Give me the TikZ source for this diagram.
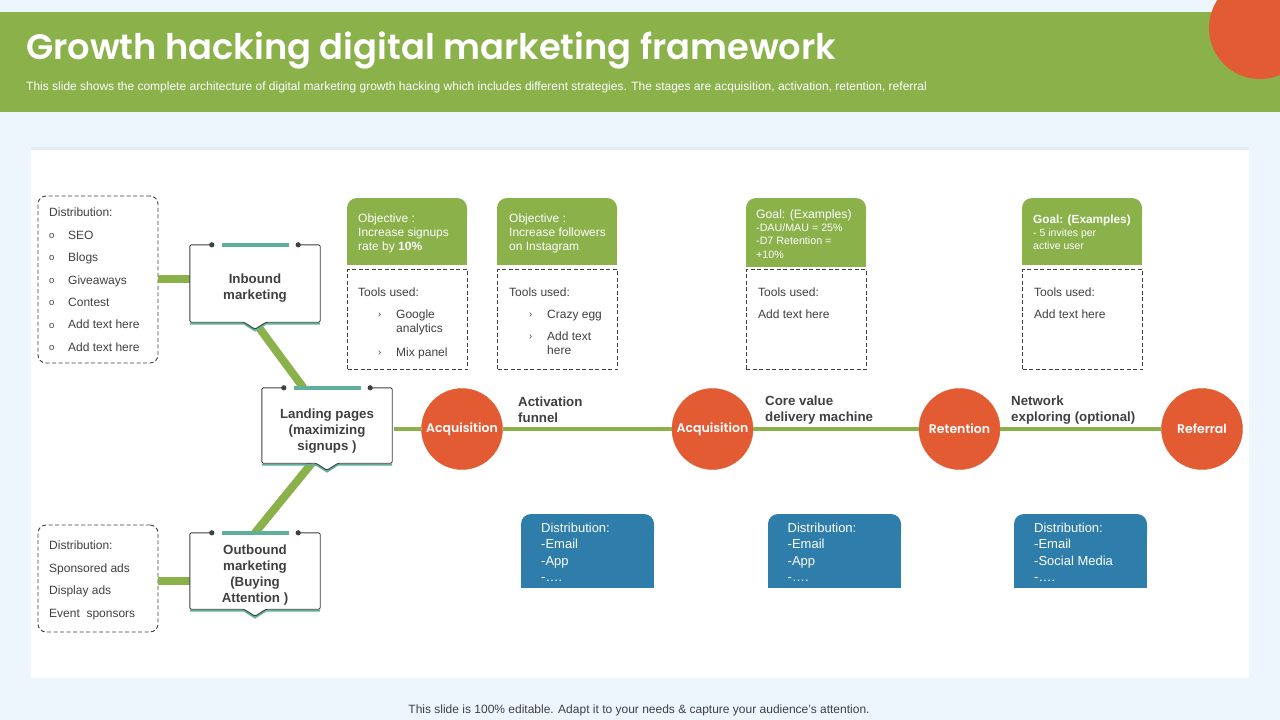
\documentclass[tikz,border=0pt]{standalone}
\usepackage{fontspec}
\setmainfont{Liberation Sans}
\newfontfamily\headfont{Poppins}[BoldFont={Poppins SemiBold}]
\usepackage{color}
\definecolor{leaf}{HTML}{8AB14A}
\definecolor{rust}{HTML}{E35B33}
\definecolor{sea}{HTML}{2E7DAB}
\definecolor{pale}{HTML}{EDF6FD}
\definecolor{rim}{HTML}{E4ECF3}
\definecolor{mint}{HTML}{5FB09B}
\definecolor{ink}{HTML}{404040}
\newcommand{\dotitem}[1]{\makebox[19pt][l]{\fontsize{9.5}{14}\selectfont\raisebox{.8pt}{o}}#1}
\newcommand{\toolitem}[1]{\hspace*{20pt}\makebox[18pt][l]{\fontsize{9.5}{14}\selectfont\raisebox{.8pt}{›}}#1}
\tikzset{
  plain/.style={inner sep=0, align=left, text=ink, font=\fontsize{12}{14}\selectfont},
  spaced/.style={plain, font=\fontsize{12}{22.4}\selectfont},
  onfill/.style={inner sep=0, align=left, text=white, font=\fontsize{12}{14.2}\selectfont},
  stagebox/.style={draw=rust, fill=rust, circle, minimum size=81pt, inner sep=0, text=white, font=\headfont\bfseries\fontsize{12.5}{15}\selectfont},
  distbox/.style={draw=ink, dash pattern=on 4pt off 2.5pt, line width=.9pt, rounded corners=8pt, minimum width=120pt, inner sep=0},
  toolbox/.style={draw=ink, dash pattern=on 4pt off 2.5pt, line width=.9pt, minimum width=120pt, minimum height=100pt, inner sep=0},
  callbox/.style={fill=white, minimum width=130pt, inner sep=0},
  calltext/.style={inner sep=0, align=center, text=ink, font=\bfseries\fontsize{13.3}{16}\selectfont},
  steptext/.style={inner sep=0, align=left, anchor=west, text=ink, font=\bfseries\fontsize{13.3}{16}\selectfont},
  link/.style={draw=leaf, line width=8pt},
  track/.style={draw=leaf, line width=4.5pt}
}
\begin{document}
\begin{tikzpicture}[x=1pt, y=-1pt]
\useasboundingbox (0,0) rectangle (1280,720);
\fill[pale] (0,0) rectangle (1280,720);
\fill[leaf] (0,12) rectangle (1280,112);
\begin{scope}
\clip (0,0) rectangle (1280,720);
\fill[rust] (1260,28) circle (51);
\end{scope}
\fill[rim] (31,147) rectangle (1249,150);
\fill[white] (31,150) rectangle (1249,678);

\node[inner sep=0, anchor=west, text=white, font=\headfont\bfseries\fontsize{35.3}{40}\selectfont] (head) at (26,50) {Growth hacking digital marketing framework};
\node[onfill, anchor=west] (sub) at (26,87) {This slide shows the complete architecture of digital marketing growth hacking which includes different strategies. The stages are acquisition, activation, retention, referral};
\node[plain, anchor=center] (foot) at (639,710.5) {This slide is 100\% editable. Adapt it to your needs \& capture your audience’s attention.};

% coloured tabs
\foreach \x/\y/\w/\h/\c in {347/198/120/67/leaf, 497/198/120/67/leaf, 746/198/120/69/leaf, 1022/198/120/67/leaf, 521/514/133/74/sea, 768/514/133/74/sea, 1014/514/133/74/sea} {
  \fill[\c, rounded corners=10pt] (\x,\y) rectangle ++(\w,30);
  \fill[\c] (\x,\y+20) rectangle (\x+\w,\y+\h);
}

% left column
\node[distbox, minimum height=167pt] (d1) at (98,279.5) {};
\node[distbox, minimum height=107pt] (d2) at (98,578.5) {};
\node[spaced, anchor=north west] (dt1) at (49,208) {Distribution:\\\dotitem{SEO}\\\dotitem{Blogs}\\\dotitem{Giveaways}\\\dotitem{Contest}\\\dotitem{Add text here}\\\dotitem{Add text here}};
\node[spaced, anchor=north west] (dt2) at (49,541) {Distribution:\\Sponsored ads\\Display ads\\Event\ \ sponsors};

\node[callbox, minimum height=77pt] (b1) at (255,283.5) {};
\node[callbox, minimum height=75pt] (b2) at (327,425.5) {};
\node[callbox, minimum height=76pt] (b3) at (255,571) {};

\draw[link] ([yshift=1pt]d1.east) -- ([yshift=1pt]d1.east -| b1.west);
\draw[link] ([yshift=-2pt]d2.east) -- ([yshift=-2pt]d2.east -| b3.west);
\draw[link] (b1.south) -- (b2.122);
\draw[link] (b2.248) -- (b3.north);

\foreach \b in {b1, b2, b3} {
  \draw[mint, line width=2pt] ([yshift=-1.3pt]\b.south west) -- ([xshift=-11pt,yshift=-1.3pt]\b.south) -- ([yshift=-8.3pt]\b.south) -- ([xshift=11pt,yshift=-1.3pt]\b.south) -- ([yshift=-1.3pt]\b.south east);
  \draw[ink, fill=white, line width=.9pt, rounded corners=1.5pt] ([xshift=22pt]\b.north west) -- (\b.north west) -- (\b.south west) -- ([xshift=-11pt]\b.south) -- ([yshift=-7pt]\b.south) -- ([xshift=11pt]\b.south) -- (\b.south east) -- (\b.north east) -- ([xshift=-22pt]\b.north east);
  \draw[mint, line width=4pt] ([xshift=-33.5pt]\b.north) -- ([xshift=33.5pt]\b.north);
  \fill[ink] ([xshift=22pt]\b.north west) circle (2.6);
  \fill[ink] ([xshift=-22pt]\b.north east) circle (2.6);
}

\node[calltext] (l1) at (255,288) {Inbound\\marketing};
\node[calltext] (l2) at (327,431) {Landing pages\\(maximizing\\signups  )};
\node[calltext] (l3) at (255,575) {Outbound\\marketing\\(Buying\\Attention )};

% stages
\coordinate (c0) at (394,429);
\node[stagebox] (s1) at (462,429) {Acquisition};
\node[stagebox] (s2) at (712.5,429) {Acquisition};
\node[stagebox] (s3) at (959.5,429) {Retention};
\node[stagebox] (s4) at (1202,429) {Referral};
\draw[track] (c0) -- (s1);
\draw[track] (s1) -- (s2);
\draw[track] (s2) -- (s3);
\draw[track] (s3) -- (s4);

\node[steptext] (f1) at (518,410) {Activation\\funnel};
\node[steptext] (f2) at (765,410) {Core value\\delivery machine};
\node[steptext] (f3) at (1011,410) {Network\\exploring (optional)};

% goals
\node[onfill, anchor=west] (g1) at (358,233.5) {Objective :\\Increase signups\\rate by \textbf{10\%}};
\node[onfill, anchor=west] (g2) at (509,233.5) {Objective :\\Increase followers\\on Instagram};
\node[onfill, anchor=west, font=\fontsize{10.7}{13.2}\selectfont] (g3) at (756,234) {{\fontsize{12.2}{14}\selectfont Goal: (Examples)}\\-DAU/MAU = 25\%\\-D7 Retention =\\+10\%};
\node[onfill, anchor=west, font=\fontsize{10.5}{13.2}\selectfont] (g4) at (1033,232.5) {{\bfseries\fontsize{11.8}{14}\selectfont Goal:  (Examples)}\\- 5 invites per\\active user};

% tools
\node[toolbox] (t1) at (407.5,319.5) {};
\node[toolbox] (t2) at (557.5,319.5) {};
\node[toolbox] (t3) at (806,319.5) {};
\node[toolbox] (t4) at (1082.5,319.5) {};
\node[plain, anchor=north west] (u1) at (358,287.5) {Tools used:\\[8pt]\toolitem{Google}\\\hspace*{38pt}analytics\\[10pt]\toolitem{Mix panel}};
\node[plain, anchor=north west] (u2) at (509,287.5) {Tools used:\\[8pt]\toolitem{Crazy egg}\\[8pt]\toolitem{Add text}\\\hspace*{38pt}here};
\node[plain, anchor=north west] (u3) at (758,287.5) {Tools used:\\[8pt]Add text here};
\node[plain, anchor=north west] (u4) at (1034,287.5) {Tools used:\\[8pt]Add text here};

% channels
\node[onfill, anchor=north west, font=\fontsize{13}{16.2}\selectfont] (h1) at (541,523) {Distribution:\\-Email\\-App\\-….};
\node[onfill, anchor=north west, font=\fontsize{13}{16.2}\selectfont] (h2) at (787.5,523) {Distribution:\\-Email\\-App\\-….};
\node[onfill, anchor=north west, font=\fontsize{13}{16.2}\selectfont] (h3) at (1034,523) {Distribution:\\-Email\\-Social Media\\-….};
\end{tikzpicture}
\end{document}
